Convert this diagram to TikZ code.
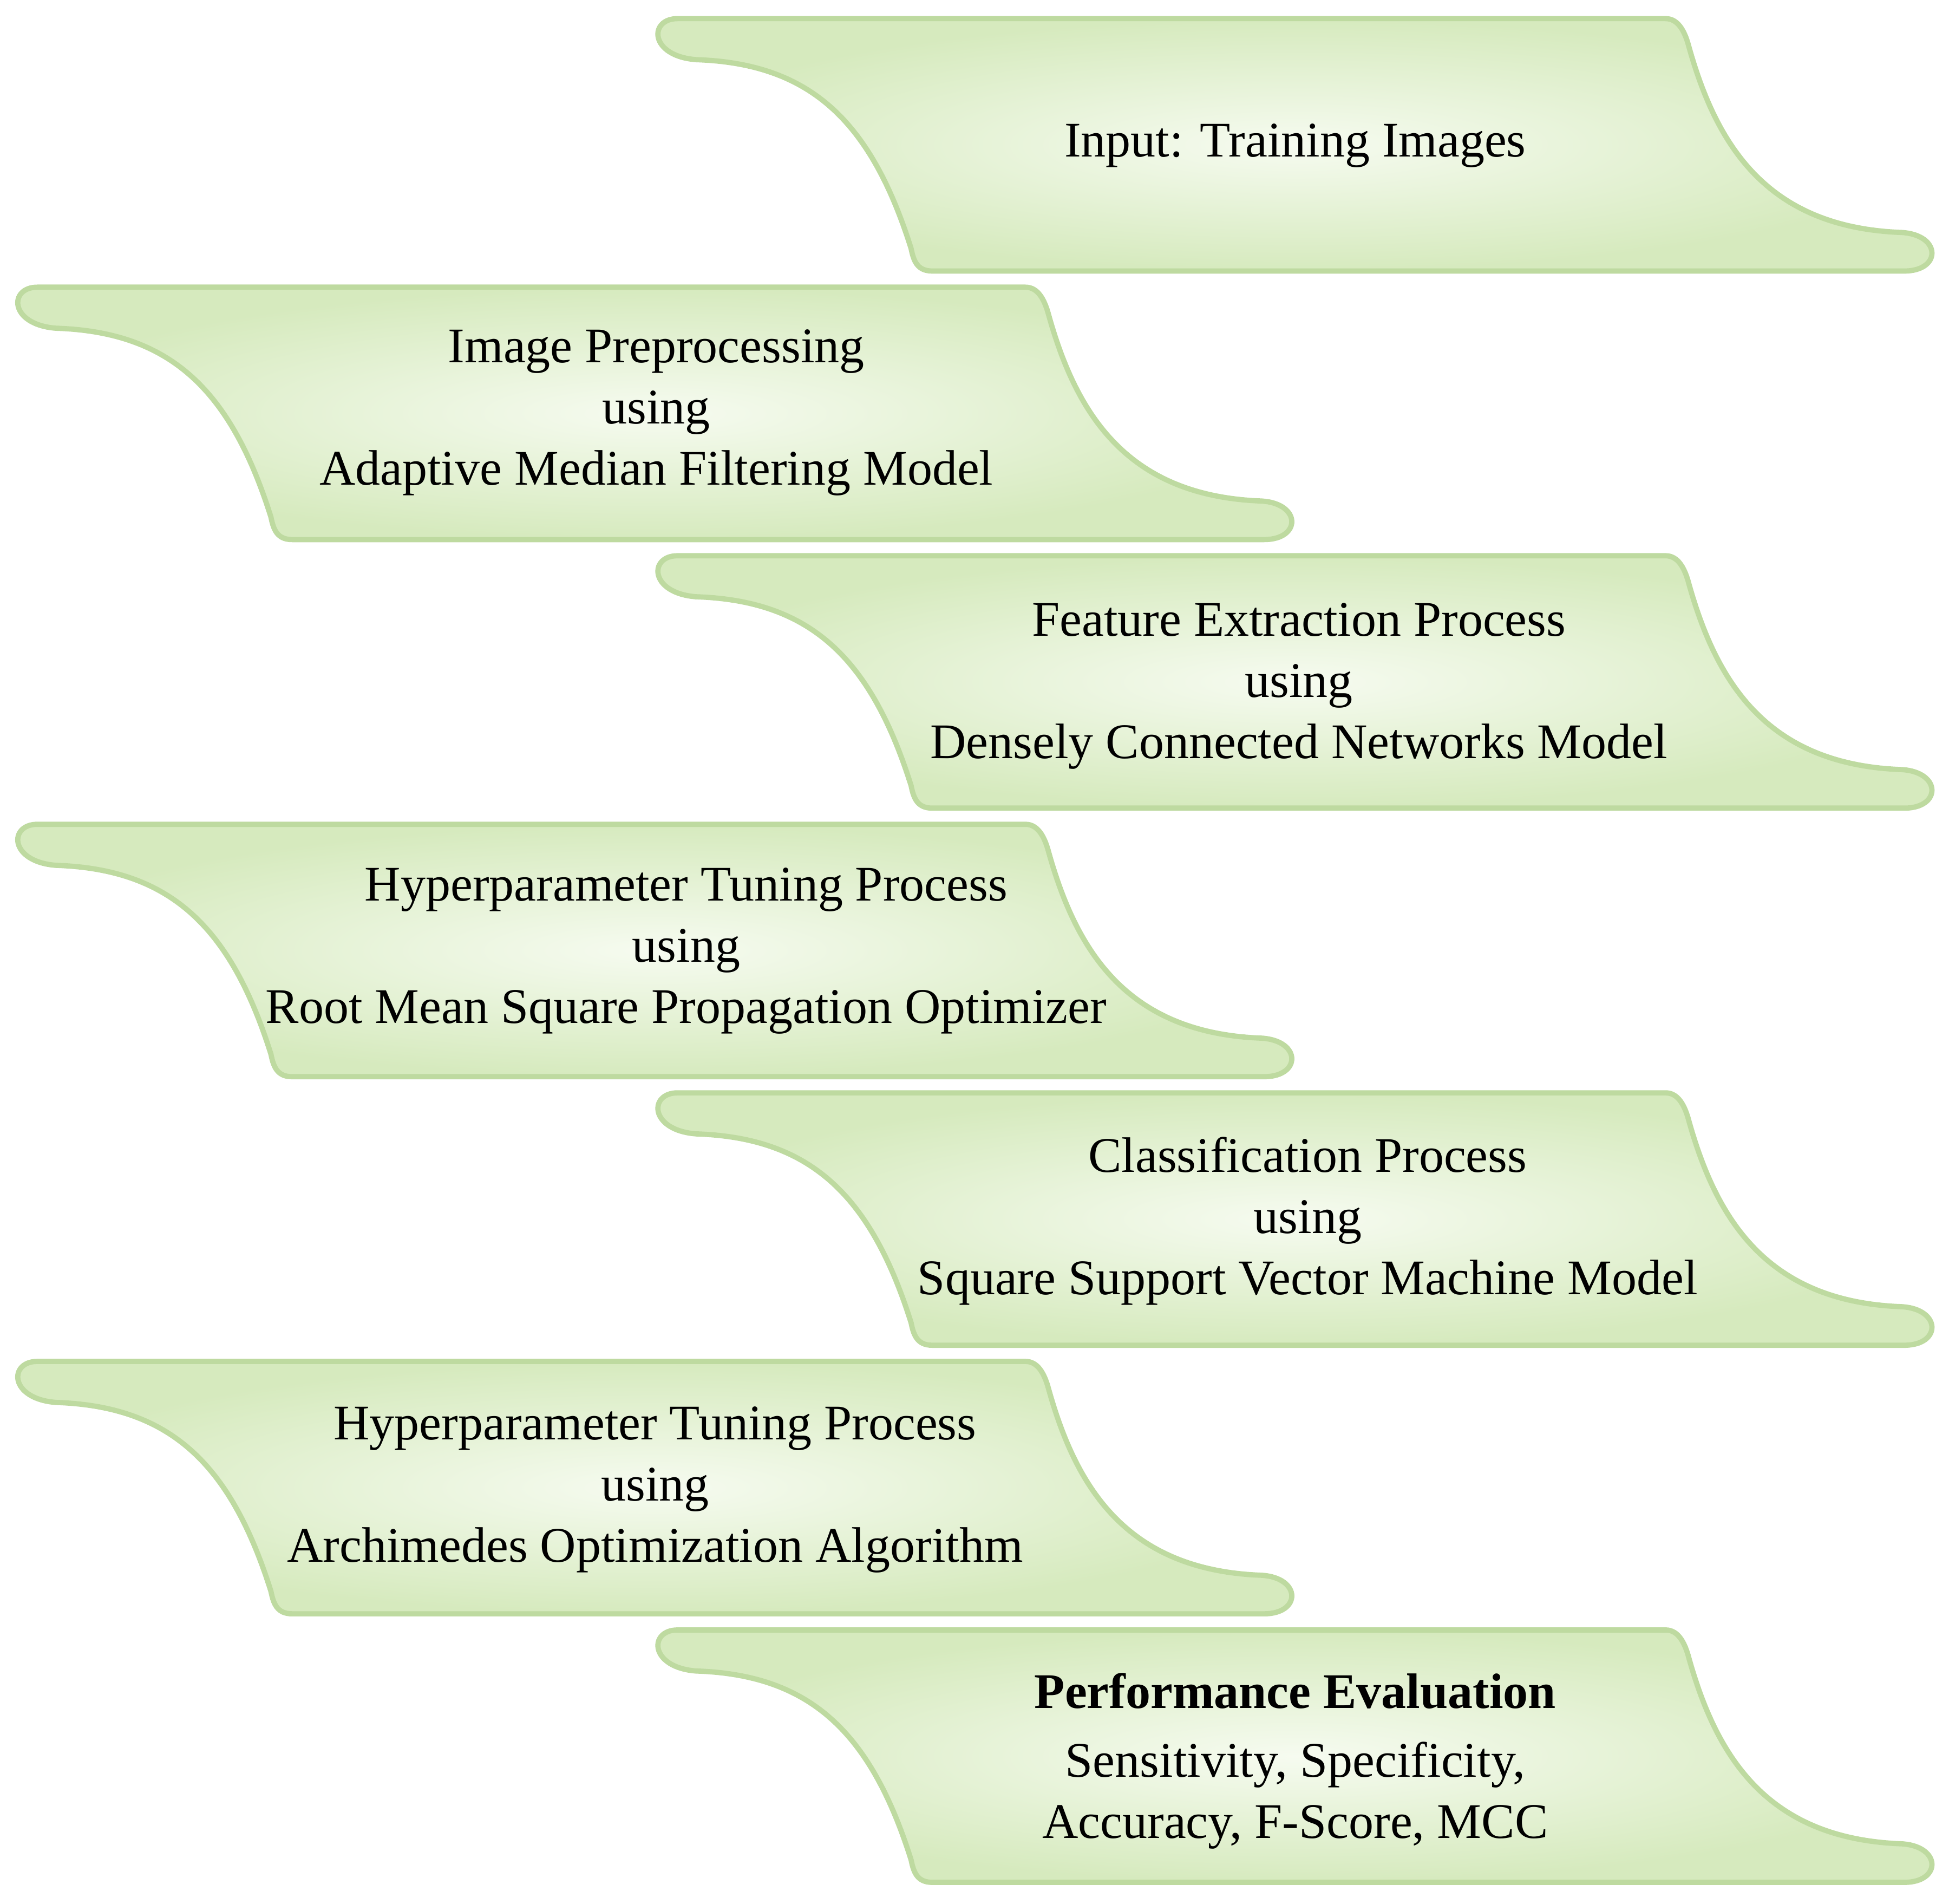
\documentclass[tikz,border=0pt]{standalone}
\usepackage{fontspec}
\setmainfont{Liberation Serif}
\definecolor{stepedge}{RGB}{190,218,160}
\definecolor{stepfill}{RGB}{214,234,190}
\definecolor{stepcore}{RGB}{246,251,240}
\tikzset{
  stepbox/.style={draw=stepedge, line width=1.2pt, inner color=stepcore, outer color=stepfill},
  steptext/.style={align=center, font=\fontsize{11.4}{14}\selectfont},
  pics/stepshape/.style={code={
    \path[stepbox] (0.15,0) -- (8.1,0)
      .. controls (8.2,0) and (8.25,-0.1) .. (8.28,-0.2)
      .. controls (8.5,-1.0) and (8.9,-1.68) .. (10.0,-1.72)
      .. controls (10.32,-1.74) and (10.32,-2.03) .. (10.02,-2.03)
      -- (2.2,-2.03)
      .. controls (2.08,-2.03) and (2.05,-1.95) .. (2.03,-1.85)
      .. controls (1.7,-0.8) and (1.2,-0.36) .. (0.3,-0.33)
      .. controls (-0.08,-0.3) and (-0.08,0) .. (0.15,0) -- cycle;
  }}
}
\begin{document}
\begin{tikzpicture}
  \fill[white] (0,0) rectangle (15.68,-15.31);
  \useasboundingbox (0,0) rectangle (15.68,-15.31);
  % shapes
  \pic at (5.30,-0.15) {stepshape};
  \pic at (0.15,-2.31) {stepshape};
  \pic at (5.30,-4.47) {stepshape};
  \pic at (0.15,-6.63) {stepshape};
  \pic at (5.30,-8.79) {stepshape};
  \pic at (0.15,-10.95) {stepshape};
  \pic at (5.30,-13.11) {stepshape};
  % texts
  \node[steptext] (input) at (10.42,-1.17) {Input: Training Images};
  \node[steptext] (prep) at (5.28,-3.32) {Image Preprocessing\\using\\Adaptive Median Filtering Model};
  \node[steptext] (feat) at (10.45,-5.52) {Feature Extraction Process\\using\\Densely Connected Networks Model};
  \node[steptext] (rmsp) at (5.52,-7.65) {Hyperparameter Tuning Process\\using\\Root Mean Square Propagation Optimizer};
  \node[steptext] (clas) at (10.52,-9.82) {Classification Process\\using\\Square Support Vector Machine Model};
  \node[steptext] (aoa) at (5.27,-11.98) {Hyperparameter Tuning Process\\using\\Archimedes Optimization Algorithm};
  \node[steptext, font=\bfseries\fontsize{11.4}{14}\selectfont] (perf) at (10.42,-13.60) {Performance Evaluation};
  \node[steptext] (metr) at (10.42,-14.44) {Sensitivity, Specificity,\\Accuracy, F-Score, MCC};
\end{tikzpicture}
\end{document}
